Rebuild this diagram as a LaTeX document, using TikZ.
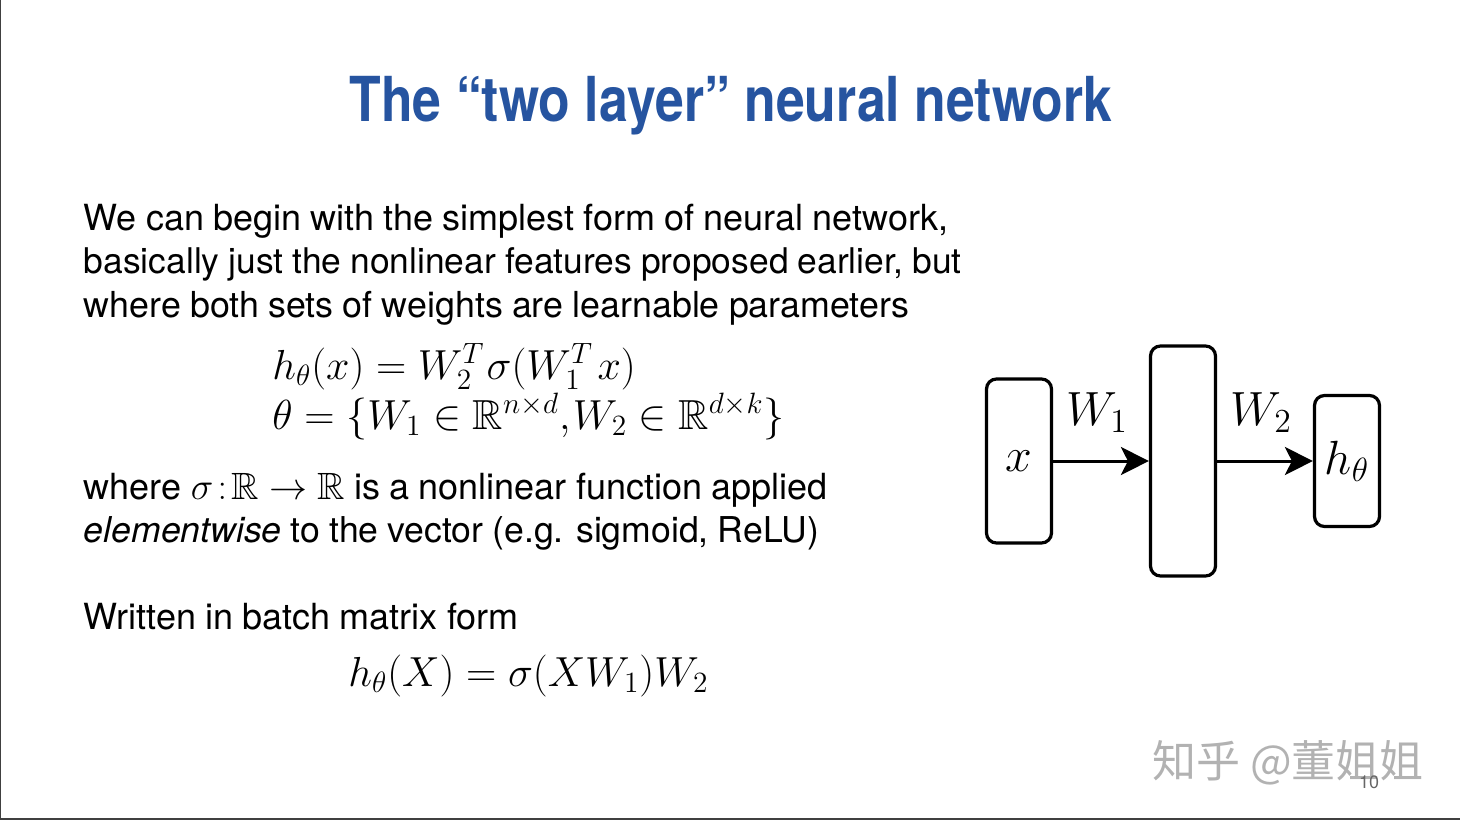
\documentclass[tikz,border=0pt]{standalone}
\usepackage{fix-cm}
\usepackage{amsmath,amssymb}
\usepackage{fontspec}
\setmainfont[WordSpace=0.92]{TeX Gyre Heros}
\newfontfamily\titlefont[FakeStretch=0.835]{TeX Gyre Heros}
\newfontfamily\cjkfont{Noto Sans CJK SC}
\usetikzlibrary{arrows.meta}
\definecolor{titleblue}{RGB}{38,84,160}
\begin{document}
\begin{tikzpicture}[
  x=0.5pt, y=-0.5pt,
  block/.style={rectangle, draw, rounded corners=5pt, line width=1.6pt, minimum width=32.5pt, inner sep=0pt},
  line/.style={anchor=base west, inner sep=0pt, font=\fontsize{18}{22}\selectfont},
  eqn/.style={anchor=base west, inner sep=0pt, font=\fontsize{21}{25}\selectfont},
  symb/.style={font=\fontsize{24}{28}\selectfont},
  flow/.style={-{Stealth[length=14pt,width=14pt,inset=3.5pt]}, line width=1.5pt},
  node distance=82pt
]
\useasboundingbox (0,0) rectangle (1460,820);
\draw[line width=1pt, black!75] (0,0) -- (0,819) -- (1460,819);

% Title
\node[anchor=base, inner sep=0pt, text=titleblue, font=\titlefont\bfseries\fontsize{31}{36}\selectfont] (title) at (731,121) {The “two layer” neural network};

% Text
\node[line] (para1) at (83.5,230) {We can begin with the simplest form of neural network,};
\node[line, font=\fontsize{17.7}{22}\selectfont] (para2) at (83.5,273) {basically just the nonlinear features proposed earlier, but};
\node[line, font=\fontsize{17.9}{22}\selectfont] (para3) at (83.5,317) {where both sets of weights are learnable parameters};
\node[eqn] (eqn1) at (272,379) {$h_\theta(x) = W_2^T\mkern1mu\sigma(W_1^T\mkern2mu x)$};
\node[eqn] (eqn2) at (272,429) {$\theta = \{W_1 \in \mathbb{R}^{n\times d},\mkern-2mu W_2 \in \mathbb{R}^{d\times k}\}$};
\node[line] (para4) at (83.5,499) {where {\fontsize{19}{22}\selectfont$\sigma\!:\!\mathbb{R}\to\mathbb{R}$} is a nonlinear function applied};
\node[line, font=\fontsize{17.8}{22}\selectfont] (para5) at (83.5,542) {\textit{elementwise} to the vector (e.g. sigmoid, ReLU)};
\node[line] (para6) at (83.5,629) {Written in batch matrix form};
\node[eqn] (eqn3) at (348,686) {$h_\theta(X) = \sigma(XW_1)W_2$};

% Network
\node[block, symb, minimum height=82pt] (input) at (1019,461) {\raisebox{-5.2pt}[0pt][0pt]{$x$}};
\node[block, right of=input, minimum height=115pt] (hidden) {};
\node[block, symb, right of=hidden, minimum height=65.5pt] (output) {$h_\theta$};

% Arrows
\draw[flow] (input) -- node[above=10pt, xshift=-2pt, symb] (weight1) {$W_1$} (hidden);
\draw[flow] (hidden) -- node[above=10pt, xshift=-2pt, symb] (weight2) {$W_2$} (output);

% Watermark
\node[anchor=base west, inner sep=0pt, text=black!30, font=\cjkfont\fontsize{22}{26}\selectfont] (mark) at (1152,777) {知乎 @董姐姐};
\node[anchor=base, inner sep=0pt, text=black!60, font=\fontsize{9}{11}\selectfont] (page) at (1369,788) {10};
\end{tikzpicture}
\end{document}
